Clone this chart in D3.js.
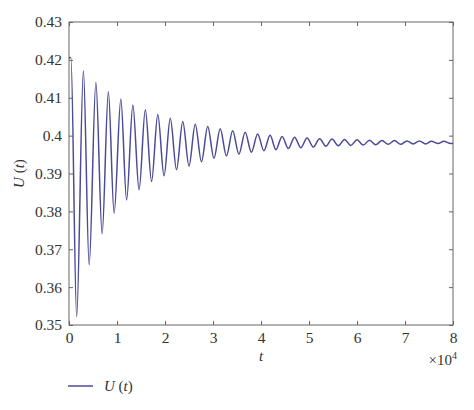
<!DOCTYPE html>
<html><head><meta charset="utf-8">
<script src="https://cdn.jsdelivr.net/npm/d3@7"></script>
<style>body{margin:0;background:#fff}svg{display:block}text{font-family:"Liberation Serif","DejaVu Serif",serif;fill:#333}</style>
</head><body><svg id="c" width="474" height="410"></svg>
<script>
// extrema (t in units of 10^4)
const peakT = [0.04,0.30,0.56,0.82,1.08,1.33,1.59,1.85,2.11,2.37,2.63,2.89,3.15,3.41,3.67,3.93,4.19,4.44,4.70,4.96,5.22,5.48,5.74,6.00,6.26,6.52,6.78,7.04,7.30,7.55,7.81];
const peakU = [0.4206,0.4171,0.4140,0.4116,0.4097,0.4081,0.4068,0.4056,0.4046,0.4037,0.4030,0.4024,0.4018,0.4013,0.4009,0.4004,0.4001,0.3998,0.3996,0.3994,0.3992,0.3991,0.3990,0.3989,0.3988,0.3987,0.3987,0.3986,0.3986,0.3985,0.3985];
const troughT = [0.16,0.42,0.69,0.94,1.20,1.46,1.72,1.98,2.24,2.50,2.76,3.02,3.28,3.54,3.80,4.06,4.31,4.57,4.83,5.09,5.35,5.61,5.87,6.13,6.39,6.65,6.91,7.17,7.43,7.69,7.95];
const troughU = [0.3522,0.3659,0.3741,0.3795,0.3830,0.3857,0.3879,0.3894,0.3910,0.3920,0.3931,0.3940,0.3946,0.3951,0.3956,0.3960,0.3963,0.3966,0.3968,0.3970,0.3972,0.3973,0.3974,0.3975,0.3976,0.3977,0.3977,0.3978,0.3978,0.3979,0.3979];
const startPoint = [0, 0.4205];
const endPoint = [8, 0.3980];
const xTicks = [0,1,2,3,4,5,6,7,8];
const yTicks = [0.35,0.36,0.37,0.38,0.39,0.40,0.41,0.42,0.43];
const yTickLabels = ["0.35","0.36","0.37","0.38","0.39","0.4","0.41","0.42","0.43"];

const pts = [startPoint];
for (let i = 0; i < peakT.length; i++) {
  pts.push([peakT[i], peakU[i]]);
  if (i < troughT.length) pts.push([troughT[i], troughU[i]]);
}
pts.push(endPoint);
pts.sort((a,b)=>a[0]-b[0]);

const L=69, R=453, T=22, B=325;
const x = d3.scaleLinear().domain([0,8]).range([L,R]);
const y = d3.scaleLinear().domain([0.35,0.43]).range([B,T]);
const svg = d3.select("#c");
const axisCol = "#666";

// box
svg.append("rect").attr("x",L).attr("y",T).attr("width",R-L).attr("height",B-T)
  .attr("fill","none").attr("stroke",axisCol).attr("stroke-width",1);

const tl = 4;
const gx = svg.append("g").attr("transform",`translate(0,${B})`)
  .call(d3.axisBottom(x).tickValues(xTicks).tickSize(-tl).tickPadding(7).tickFormat(d3.format("d")));
const gxt = svg.append("g").attr("transform",`translate(0,${T})`)
  .call(d3.axisTop(x).tickValues(xTicks).tickSize(-tl).tickFormat(""));
const gy = svg.append("g").attr("transform",`translate(${L},0)`)
  .call(d3.axisLeft(y).tickValues(yTicks).tickSize(-tl).tickPadding(7).tickFormat((d,i)=>yTickLabels[i]));
const gyr = svg.append("g").attr("transform",`translate(${R},0)`)
  .call(d3.axisRight(y).tickValues(yTicks).tickSize(-tl).tickFormat(""));
[gx,gxt,gy,gyr].forEach(g=>{
  g.select(".domain").remove();
  g.selectAll(".tick line").attr("stroke",axisCol);
  g.selectAll("text").attr("font-size",15.5).attr("fill","#333").attr("font-family","Liberation Serif, serif");
});

// curve
const line = d3.line().x(d=>x(d[0])).y(d=>y(d[1])).curve(d3.curveMonotoneX);
svg.append("path").datum(pts).attr("d",line).attr("fill","none")
  .attr("stroke","#4b4b99").attr("stroke-width",1.5);

// labels
svg.append("text").attr("transform",`translate(24,${(T+B)/2}) rotate(-90)`).attr("text-anchor","middle")
  .attr("font-size",15).html('<tspan font-style="italic">U</tspan> (<tspan font-style="italic">t</tspan>)');
svg.append("text").attr("x",(L+R)/2).attr("y",361).attr("text-anchor","middle")
  .attr("font-size",15).attr("font-style","italic").text("t");
svg.append("text").attr("x",R+4).attr("y",365).attr("text-anchor","end").attr("font-size",15)
  .html('×10<tspan dy="-6" font-size="10">4</tspan>');

// legend
svg.append("line").attr("x1",68).attr("x2",93).attr("y1",386).attr("y2",386)
  .attr("stroke","#4b4b99").attr("stroke-width",1.5);
svg.append("text").attr("x",104).attr("y",391).attr("font-size",15)
  .html('<tspan font-style="italic">U</tspan> (<tspan font-style="italic">t</tspan>)');
</script></body></html>
